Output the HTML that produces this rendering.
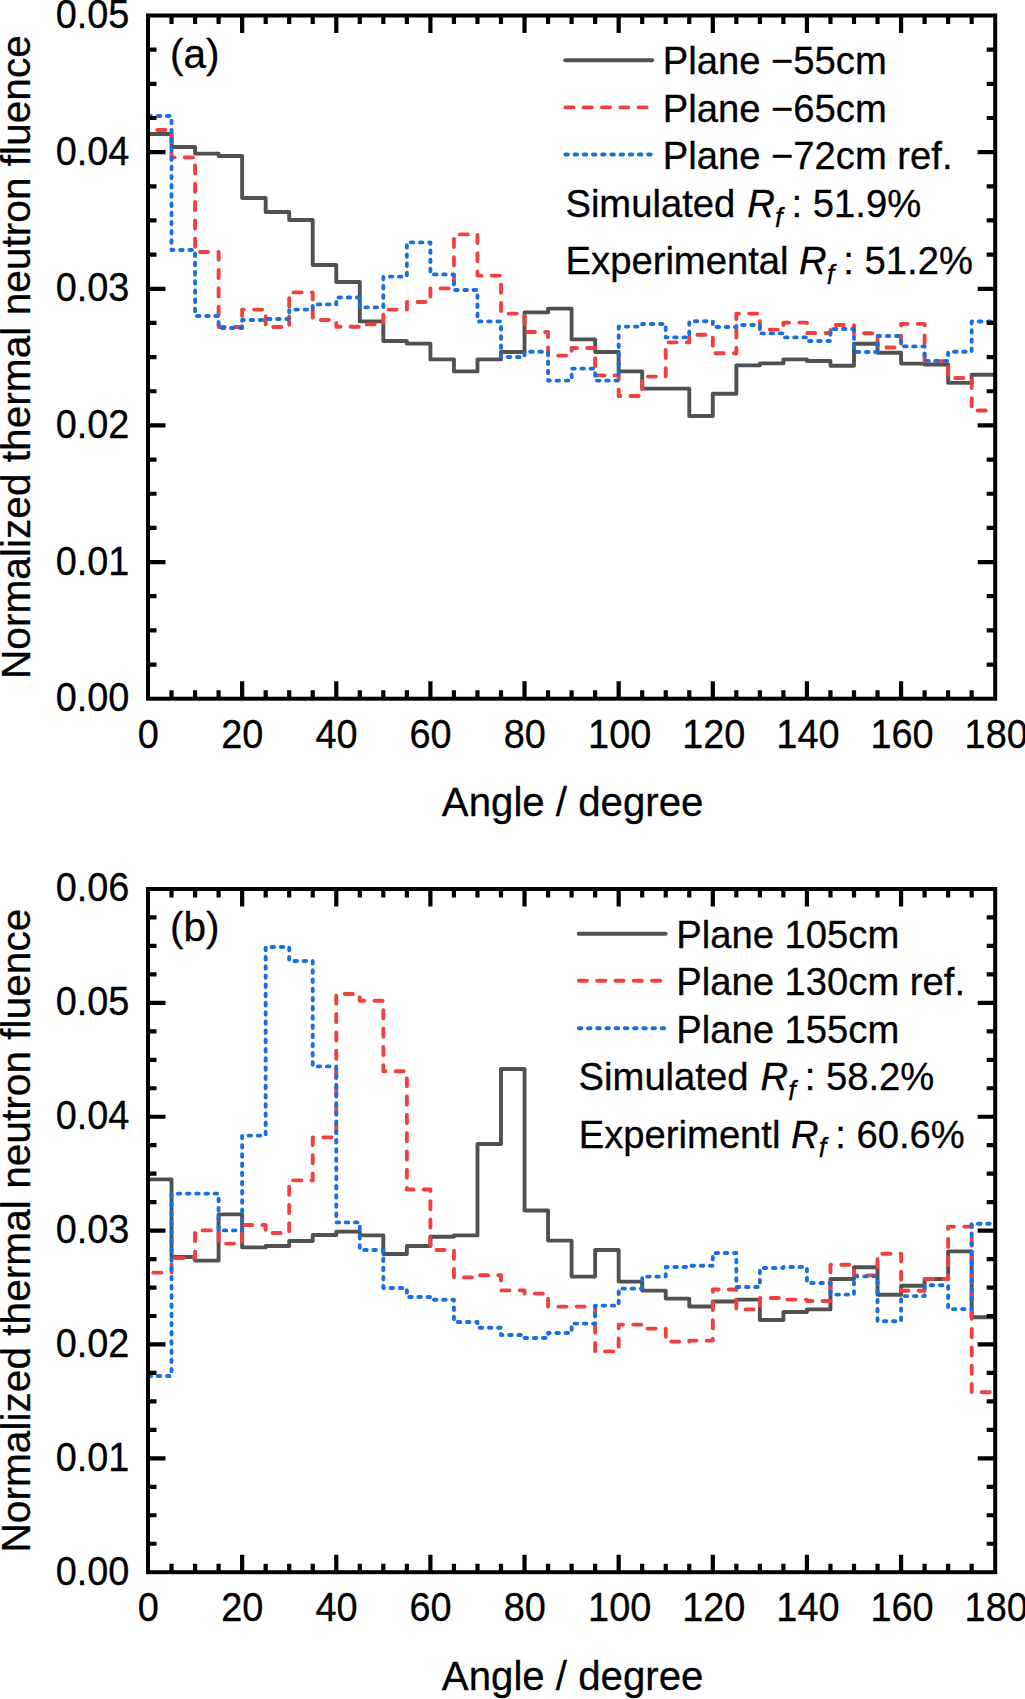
<!DOCTYPE html>
<html lang="en"><head><meta charset="utf-8"><title>Normalized thermal neutron fluence</title>
<style>
html,body{margin:0;padding:0;background:#fff}
body{width:1025px;height:1699px;overflow:hidden}
svg{display:block}
</style></head>
<body>
<svg width="1025" height="1699" viewBox="0 0 1025 1699">
<style>text{stroke:#000;stroke-width:0.3px;stroke-linejoin:round}</style>
<rect width="1025" height="1699" fill="#fff"/>
<clipPath id="clipa"><rect x="148.00" y="15.50" width="847.20" height="683.20"/></clipPath>
<g clip-path="url(#clipa)" fill="none" stroke-linejoin="round">
<path d="M148.00 134.00 L171.53 134.00 L171.53 147.00 L195.07 147.00 L195.07 153.60 L218.60 153.60 L218.60 156.00 L242.13 156.00 L242.13 198.00 L265.67 198.00 L265.67 212.00 L289.20 212.00 L289.20 220.00 L312.73 220.00 L312.73 265.00 L336.27 265.00 L336.27 282.00 L359.80 282.00 L359.80 321.40 L383.33 321.40 L383.33 341.00 L406.87 341.00 L406.87 343.60 L430.40 343.60 L430.40 359.40 L453.93 359.40 L453.93 371.40 L477.47 371.40 L477.47 359.40 L501.00 359.40 L501.00 352.00 L524.53 352.00 L524.53 312.40 L548.07 312.40 L548.07 308.60 L571.60 308.60 L571.60 339.40 L595.13 339.40 L595.13 352.00 L618.67 352.00 L618.67 371.40 L642.20 371.40 L642.20 388.60 L665.73 388.60 L665.73 388.60 L689.27 388.60 L689.27 416.00 L712.80 416.00 L712.80 393.70 L736.33 393.70 L736.33 365.40 L759.87 365.40 L759.87 363.40 L783.40 363.40 L783.40 359.40 L806.93 359.40 L806.93 361.00 L830.47 361.00 L830.47 365.70 L854.00 365.70 L854.00 343.80 L877.53 343.80 L877.53 352.80 L901.07 352.80 L901.07 363.60 L924.60 363.60 L924.60 364.50 L948.13 364.50 L948.13 382.90 L971.67 382.90 L971.67 374.80 L995.20 374.80" stroke="#515151" stroke-width="3.9"/>
<path d="M148.00 130.00 L171.53 130.00 L171.53 157.40 L195.07 157.40 L195.07 252.00 L218.60 252.00 L218.60 327.00 L242.13 327.00 L242.13 309.60 L265.67 309.60 L265.67 327.00 L289.20 327.00 L289.20 292.40 L312.73 292.40 L312.73 320.00 L336.27 320.00 L336.27 326.70 L359.80 326.70 L359.80 324.40 L383.33 324.40 L383.33 309.60 L406.87 309.60 L406.87 302.00 L430.40 302.00 L430.40 288.40 L453.93 288.40 L453.93 234.40 L477.47 234.40 L477.47 275.60 L501.00 275.60 L501.00 313.60 L524.53 313.60 L524.53 332.00 L548.07 332.00 L548.07 355.60 L571.60 355.60 L571.60 348.00 L595.13 348.00 L595.13 375.40 L618.67 375.40 L618.67 396.00 L642.20 396.00 L642.20 376.60 L665.73 376.60 L665.73 342.40 L689.27 342.40 L689.27 334.70 L712.80 334.70 L712.80 353.20 L736.33 353.20 L736.33 313.60 L759.87 313.60 L759.87 329.60 L783.40 329.60 L783.40 322.60 L806.93 322.60 L806.93 333.00 L830.47 333.00 L830.47 325.00 L854.00 325.00 L854.00 333.30 L877.53 333.30 L877.53 347.50 L901.07 347.50 L901.07 323.90 L924.60 323.90 L924.60 361.20 L948.13 361.20 L948.13 378.00 L971.67 378.00 L971.67 410.50 L995.20 410.50" stroke="#F14040" stroke-width="3.9" stroke-dasharray="8.1 10.2" stroke-dashoffset="9.0" stroke-linecap="round"/>
<path d="M148.00 116.00 L171.53 116.00 L171.53 250.00 L195.07 250.00 L195.07 316.00 L218.60 316.00 L218.60 328.00 L242.13 328.00 L242.13 320.00 L265.67 320.00 L265.67 319.00 L289.20 319.00 L289.20 309.60 L312.73 309.60 L312.73 304.40 L336.27 304.40 L336.27 297.50 L359.80 297.50 L359.80 307.40 L383.33 307.40 L383.33 276.60 L406.87 276.60 L406.87 242.40 L430.40 242.40 L430.40 274.40 L453.93 274.40 L453.93 290.00 L477.47 290.00 L477.47 321.40 L501.00 321.40 L501.00 357.00 L524.53 357.00 L524.53 351.80 L548.07 351.80 L548.07 380.60 L571.60 380.60 L571.60 368.60 L595.13 368.60 L595.13 380.60 L618.67 380.60 L618.67 326.60 L642.20 326.60 L642.20 324.00 L665.73 324.00 L665.73 337.40 L689.27 337.40 L689.27 321.20 L712.80 321.20 L712.80 327.00 L736.33 327.00 L736.33 325.00 L759.87 325.00 L759.87 333.40 L783.40 333.40 L783.40 337.40 L806.93 337.40 L806.93 341.00 L830.47 341.00 L830.47 329.00 L854.00 329.00 L854.00 352.00 L877.53 352.00 L877.53 336.00 L901.07 336.00 L901.07 346.40 L924.60 346.40 L924.60 360.90 L948.13 360.90 L948.13 351.80 L971.67 351.80 L971.67 321.50 L995.20 321.50" stroke="#1A6FDF" stroke-width="3.9" stroke-dasharray="2.5 6.7" stroke-dashoffset="-0.6" stroke-linecap="round"/>
</g>
<path d="M171.53 15.50v8.50M171.53 698.70v-8.50M195.07 15.50v8.50M195.07 698.70v-8.50M218.60 15.50v8.50M218.60 698.70v-8.50M242.13 15.50v17.50M242.13 698.70v-17.50M265.67 15.50v8.50M265.67 698.70v-8.50M289.20 15.50v8.50M289.20 698.70v-8.50M312.73 15.50v8.50M312.73 698.70v-8.50M336.27 15.50v17.50M336.27 698.70v-17.50M359.80 15.50v8.50M359.80 698.70v-8.50M383.33 15.50v8.50M383.33 698.70v-8.50M406.87 15.50v8.50M406.87 698.70v-8.50M430.40 15.50v17.50M430.40 698.70v-17.50M453.93 15.50v8.50M453.93 698.70v-8.50M477.47 15.50v8.50M477.47 698.70v-8.50M501.00 15.50v8.50M501.00 698.70v-8.50M524.53 15.50v17.50M524.53 698.70v-17.50M548.07 15.50v8.50M548.07 698.70v-8.50M571.60 15.50v8.50M571.60 698.70v-8.50M595.13 15.50v8.50M595.13 698.70v-8.50M618.67 15.50v17.50M618.67 698.70v-17.50M642.20 15.50v8.50M642.20 698.70v-8.50M665.73 15.50v8.50M665.73 698.70v-8.50M689.27 15.50v8.50M689.27 698.70v-8.50M712.80 15.50v17.50M712.80 698.70v-17.50M736.33 15.50v8.50M736.33 698.70v-8.50M759.87 15.50v8.50M759.87 698.70v-8.50M783.40 15.50v8.50M783.40 698.70v-8.50M806.93 15.50v17.50M806.93 698.70v-17.50M830.47 15.50v8.50M830.47 698.70v-8.50M854.00 15.50v8.50M854.00 698.70v-8.50M877.53 15.50v8.50M877.53 698.70v-8.50M901.07 15.50v17.50M901.07 698.70v-17.50M924.60 15.50v8.50M924.60 698.70v-8.50M948.13 15.50v8.50M948.13 698.70v-8.50M971.67 15.50v8.50M971.67 698.70v-8.50M148.00 664.54h8.50M995.20 664.54h-8.50M148.00 630.38h8.50M995.20 630.38h-8.50M148.00 596.22h8.50M995.20 596.22h-8.50M148.00 562.06h17.50M995.20 562.06h-17.50M148.00 527.90h8.50M995.20 527.90h-8.50M148.00 493.74h8.50M995.20 493.74h-8.50M148.00 459.58h8.50M995.20 459.58h-8.50M148.00 425.42h17.50M995.20 425.42h-17.50M148.00 391.26h8.50M995.20 391.26h-8.50M148.00 357.10h8.50M995.20 357.10h-8.50M148.00 322.94h8.50M995.20 322.94h-8.50M148.00 288.78h17.50M995.20 288.78h-17.50M148.00 254.62h8.50M995.20 254.62h-8.50M148.00 220.46h8.50M995.20 220.46h-8.50M148.00 186.30h8.50M995.20 186.30h-8.50M148.00 152.14h17.50M995.20 152.14h-17.50M148.00 117.98h8.50M995.20 117.98h-8.50M148.00 83.82h8.50M995.20 83.82h-8.50M148.00 49.66h8.50M995.20 49.66h-8.50" stroke="#000" stroke-width="4.2" fill="none"/>
<rect x="148.00" y="15.50" width="847.20" height="683.20" fill="none" stroke="#000" stroke-width="4"/>
<g font-family="Liberation Sans, Arial, Helvetica, sans-serif" font-size="37.9" fill="#000">
<text transform="translate(129.4 711.15) scale(1 1.065)" text-anchor="end">0.00</text>
<text transform="translate(129.4 574.51) scale(1 1.065)" text-anchor="end">0.01</text>
<text transform="translate(129.4 437.87) scale(1 1.065)" text-anchor="end">0.02</text>
<text transform="translate(129.4 301.23) scale(1 1.065)" text-anchor="end">0.03</text>
<text transform="translate(129.4 164.59) scale(1 1.065)" text-anchor="end">0.04</text>
<text transform="translate(129.4 27.95) scale(1 1.065)" text-anchor="end">0.05</text>
<text transform="translate(148.20 747.50) scale(1 1.065)" text-anchor="middle">0</text>
<text transform="translate(242.33 747.50) scale(1 1.065)" text-anchor="middle">20</text>
<text transform="translate(336.47 747.50) scale(1 1.065)" text-anchor="middle">40</text>
<text transform="translate(430.60 747.50) scale(1 1.065)" text-anchor="middle">60</text>
<text transform="translate(524.73 747.50) scale(1 1.065)" text-anchor="middle">80</text>
<text transform="translate(619.67 747.50) scale(1 1.065)" text-anchor="middle">100</text>
<text transform="translate(713.80 747.50) scale(1 1.065)" text-anchor="middle">120</text>
<text transform="translate(807.93 747.50) scale(1 1.065)" text-anchor="middle">140</text>
<text transform="translate(902.07 747.50) scale(1 1.065)" text-anchor="middle">160</text>
<text transform="translate(996.20 747.50) scale(1 1.065)" text-anchor="middle">180</text>
</g>
<text font-family="Liberation Sans, Arial, Helvetica, sans-serif" font-size="40.2" transform="translate(572.60 816.20) scale(1 1.005)" text-anchor="middle">Angle / degree</text>
<text font-family="Liberation Sans, Arial, Helvetica, sans-serif" font-size="40.65" transform="translate(29.9 357.10) rotate(-90) scale(1 1.005)" text-anchor="middle">Normalized thermal neutron fluence</text>
<text font-family="Liberation Sans, Arial, Helvetica, sans-serif" font-size="40.5" transform="translate(170.00 67.50) scale(1 1.0)">(a)</text>
<g fill="none">
<path d="M565.20 60.20H652.20" stroke="#515151" stroke-width="3.9" stroke-linecap="round"/>
<path d="M565.35 107.40H650.40" stroke="#F14040" stroke-width="3.9" stroke-dasharray="8.1 10.2" stroke-linecap="round"/>
<path d="M565.35 154.50H651.20" stroke="#1A6FDF" stroke-width="3.9" stroke-dasharray="2.5 6.7" stroke-linecap="round"/>
</g>
<g font-family="Liberation Sans, Arial, Helvetica, sans-serif" font-size="38.2" fill="#000">
<text transform="translate(662.70 74.00) scale(1 1.02)">Plane −55cm</text>
<text transform="translate(662.70 121.80) scale(1 1.02)">Plane −65cm</text>
<text transform="translate(662.70 168.80) scale(1 1.02)">Plane −72cm ref.</text>
<text transform="translate(565.40 216.80) scale(1 1.02)">Simulated <tspan font-style="italic" dx="1.5">R</tspan><tspan font-style="italic" font-size="27" dy="9.6">f</tspan><tspan dy="-9.6" dx="-1.5"> : 51.9%</tspan></text>
<text transform="translate(565.60 274.40) scale(1 1.02)">Experimental <tspan font-style="italic" dx="0">R</tspan><tspan font-style="italic" font-size="27" dy="9.6">f</tspan><tspan dy="-9.6" dx="-1.5"> : 51.2%</tspan></text>
</g>
<clipPath id="clipb"><rect x="148.00" y="889.00" width="847.20" height="683.20"/></clipPath>
<g clip-path="url(#clipb)" fill="none" stroke-linejoin="round">
<path d="M148.00 1179.40 L171.53 1179.40 L171.53 1257.00 L195.07 1257.00 L195.07 1260.60 L218.60 1260.60 L218.60 1214.40 L242.13 1214.40 L242.13 1247.40 L265.67 1247.40 L265.67 1246.00 L289.20 1246.00 L289.20 1241.00 L312.73 1241.00 L312.73 1235.00 L336.27 1235.00 L336.27 1231.60 L359.80 1231.60 L359.80 1235.40 L383.33 1235.40 L383.33 1254.00 L406.87 1254.00 L406.87 1246.00 L430.40 1246.00 L430.40 1236.70 L453.93 1236.70 L453.93 1235.40 L477.47 1235.40 L477.47 1144.00 L501.00 1144.00 L501.00 1069.00 L524.53 1069.00 L524.53 1210.50 L548.07 1210.50 L548.07 1240.60 L571.60 1240.60 L571.60 1276.60 L595.13 1276.60 L595.13 1250.00 L618.67 1250.00 L618.67 1281.60 L642.20 1281.60 L642.20 1290.60 L665.73 1290.60 L665.73 1298.60 L689.27 1298.60 L689.27 1306.50 L712.80 1306.50 L712.80 1301.50 L736.33 1301.50 L736.33 1299.60 L759.87 1299.60 L759.87 1320.00 L783.40 1320.00 L783.40 1312.00 L806.93 1312.00 L806.93 1309.40 L830.47 1309.40 L830.47 1279.00 L854.00 1279.00 L854.00 1267.20 L877.53 1267.20 L877.53 1294.70 L901.07 1294.70 L901.07 1285.70 L924.60 1285.70 L924.60 1279.00 L948.13 1279.00 L948.13 1251.40 L971.67 1251.40 L971.67 1317.30 L995.20 1317.30" stroke="#515151" stroke-width="3.9"/>
<path d="M148.00 1272.60 L171.53 1272.60 L171.53 1258.00 L195.07 1258.00 L195.07 1230.40 L218.60 1230.40 L218.60 1243.60 L242.13 1243.60 L242.13 1225.00 L265.67 1225.00 L265.67 1233.00 L289.20 1233.00 L289.20 1180.40 L312.73 1180.40 L312.73 1137.40 L336.27 1137.40 L336.27 994.00 L359.80 994.00 L359.80 1000.80 L383.33 1000.80 L383.33 1071.20 L406.87 1071.20 L406.87 1189.50 L430.40 1189.50 L430.40 1250.00 L453.93 1250.00 L453.93 1277.40 L477.47 1277.40 L477.47 1275.20 L501.00 1275.20 L501.00 1290.40 L524.53 1290.40 L524.53 1293.60 L548.07 1293.60 L548.07 1306.60 L571.60 1306.60 L571.60 1306.60 L595.13 1306.60 L595.13 1351.40 L618.67 1351.40 L618.67 1324.60 L642.20 1324.60 L642.20 1328.60 L665.73 1328.60 L665.73 1341.60 L689.27 1341.60 L689.27 1340.60 L712.80 1340.60 L712.80 1289.50 L736.33 1289.50 L736.33 1309.40 L759.87 1309.40 L759.87 1298.00 L783.40 1298.00 L783.40 1299.60 L806.93 1299.60 L806.93 1301.00 L830.47 1301.00 L830.47 1264.80 L854.00 1264.80 L854.00 1275.40 L877.53 1275.40 L877.53 1253.80 L901.07 1253.80 L901.07 1290.70 L924.60 1290.70 L924.60 1279.00 L948.13 1279.00 L948.13 1226.60 L971.67 1226.60 L971.67 1392.20 L995.20 1392.20" stroke="#F14040" stroke-width="3.9" stroke-dasharray="8.1 10.2" stroke-dashoffset="13.0" stroke-linecap="round"/>
<path d="M148.00 1376.00 L171.53 1376.00 L171.53 1193.60 L195.07 1193.60 L195.07 1193.60 L218.60 1193.60 L218.60 1230.40 L242.13 1230.40 L242.13 1135.60 L265.67 1135.60 L265.67 947.00 L289.20 947.00 L289.20 961.00 L312.73 961.00 L312.73 1066.40 L336.27 1066.40 L336.27 1222.40 L359.80 1222.40 L359.80 1250.00 L383.33 1250.00 L383.33 1288.00 L406.87 1288.00 L406.87 1297.00 L430.40 1297.00 L430.40 1299.80 L453.93 1299.80 L453.93 1322.00 L477.47 1322.00 L477.47 1327.70 L501.00 1327.70 L501.00 1335.00 L524.53 1335.00 L524.53 1338.00 L548.07 1338.00 L548.07 1333.00 L571.60 1333.00 L571.60 1323.60 L595.13 1323.60 L595.13 1305.60 L618.67 1305.60 L618.67 1288.60 L642.20 1288.60 L642.20 1276.60 L665.73 1276.60 L665.73 1267.00 L689.27 1267.00 L689.27 1265.80 L712.80 1265.80 L712.80 1253.00 L736.33 1253.00 L736.33 1287.00 L759.87 1287.00 L759.87 1268.00 L783.40 1268.00 L783.40 1267.00 L806.93 1267.00 L806.93 1283.00 L830.47 1283.00 L830.47 1294.60 L854.00 1294.60 L854.00 1276.40 L877.53 1276.40 L877.53 1321.20 L901.07 1321.20 L901.07 1296.10 L924.60 1296.10 L924.60 1285.30 L948.13 1285.30 L948.13 1309.10 L971.67 1309.10 L971.67 1223.80 L995.20 1223.80" stroke="#1A6FDF" stroke-width="3.9" stroke-dasharray="2.5 6.7" stroke-dashoffset="-0.6" stroke-linecap="round"/>
</g>
<path d="M171.53 889.00v8.50M171.53 1572.20v-8.50M195.07 889.00v8.50M195.07 1572.20v-8.50M218.60 889.00v8.50M218.60 1572.20v-8.50M242.13 889.00v17.50M242.13 1572.20v-17.50M265.67 889.00v8.50M265.67 1572.20v-8.50M289.20 889.00v8.50M289.20 1572.20v-8.50M312.73 889.00v8.50M312.73 1572.20v-8.50M336.27 889.00v17.50M336.27 1572.20v-17.50M359.80 889.00v8.50M359.80 1572.20v-8.50M383.33 889.00v8.50M383.33 1572.20v-8.50M406.87 889.00v8.50M406.87 1572.20v-8.50M430.40 889.00v17.50M430.40 1572.20v-17.50M453.93 889.00v8.50M453.93 1572.20v-8.50M477.47 889.00v8.50M477.47 1572.20v-8.50M501.00 889.00v8.50M501.00 1572.20v-8.50M524.53 889.00v17.50M524.53 1572.20v-17.50M548.07 889.00v8.50M548.07 1572.20v-8.50M571.60 889.00v8.50M571.60 1572.20v-8.50M595.13 889.00v8.50M595.13 1572.20v-8.50M618.67 889.00v17.50M618.67 1572.20v-17.50M642.20 889.00v8.50M642.20 1572.20v-8.50M665.73 889.00v8.50M665.73 1572.20v-8.50M689.27 889.00v8.50M689.27 1572.20v-8.50M712.80 889.00v17.50M712.80 1572.20v-17.50M736.33 889.00v8.50M736.33 1572.20v-8.50M759.87 889.00v8.50M759.87 1572.20v-8.50M783.40 889.00v8.50M783.40 1572.20v-8.50M806.93 889.00v17.50M806.93 1572.20v-17.50M830.47 889.00v8.50M830.47 1572.20v-8.50M854.00 889.00v8.50M854.00 1572.20v-8.50M877.53 889.00v8.50M877.53 1572.20v-8.50M901.07 889.00v17.50M901.07 1572.20v-17.50M924.60 889.00v8.50M924.60 1572.20v-8.50M948.13 889.00v8.50M948.13 1572.20v-8.50M971.67 889.00v8.50M971.67 1572.20v-8.50M148.00 1543.73h8.50M995.20 1543.73h-8.50M148.00 1515.27h8.50M995.20 1515.27h-8.50M148.00 1486.80h8.50M995.20 1486.80h-8.50M148.00 1458.33h17.50M995.20 1458.33h-17.50M148.00 1429.87h8.50M995.20 1429.87h-8.50M148.00 1401.40h8.50M995.20 1401.40h-8.50M148.00 1372.93h8.50M995.20 1372.93h-8.50M148.00 1344.47h17.50M995.20 1344.47h-17.50M148.00 1316.00h8.50M995.20 1316.00h-8.50M148.00 1287.53h8.50M995.20 1287.53h-8.50M148.00 1259.07h8.50M995.20 1259.07h-8.50M148.00 1230.60h17.50M995.20 1230.60h-17.50M148.00 1202.13h8.50M995.20 1202.13h-8.50M148.00 1173.67h8.50M995.20 1173.67h-8.50M148.00 1145.20h8.50M995.20 1145.20h-8.50M148.00 1116.73h17.50M995.20 1116.73h-17.50M148.00 1088.27h8.50M995.20 1088.27h-8.50M148.00 1059.80h8.50M995.20 1059.80h-8.50M148.00 1031.33h8.50M995.20 1031.33h-8.50M148.00 1002.87h17.50M995.20 1002.87h-17.50M148.00 974.40h8.50M995.20 974.40h-8.50M148.00 945.93h8.50M995.20 945.93h-8.50M148.00 917.47h8.50M995.20 917.47h-8.50" stroke="#000" stroke-width="4.2" fill="none"/>
<rect x="148.00" y="889.00" width="847.20" height="683.20" fill="none" stroke="#000" stroke-width="4"/>
<g font-family="Liberation Sans, Arial, Helvetica, sans-serif" font-size="37.9" fill="#000">
<text transform="translate(129.4 1584.65) scale(1 1.065)" text-anchor="end">0.00</text>
<text transform="translate(129.4 1470.78) scale(1 1.065)" text-anchor="end">0.01</text>
<text transform="translate(129.4 1356.92) scale(1 1.065)" text-anchor="end">0.02</text>
<text transform="translate(129.4 1243.05) scale(1 1.065)" text-anchor="end">0.03</text>
<text transform="translate(129.4 1129.18) scale(1 1.065)" text-anchor="end">0.04</text>
<text transform="translate(129.4 1015.32) scale(1 1.065)" text-anchor="end">0.05</text>
<text transform="translate(129.4 901.45) scale(1 1.065)" text-anchor="end">0.06</text>
<text transform="translate(148.20 1621.00) scale(1 1.065)" text-anchor="middle">0</text>
<text transform="translate(242.33 1621.00) scale(1 1.065)" text-anchor="middle">20</text>
<text transform="translate(336.47 1621.00) scale(1 1.065)" text-anchor="middle">40</text>
<text transform="translate(430.60 1621.00) scale(1 1.065)" text-anchor="middle">60</text>
<text transform="translate(524.73 1621.00) scale(1 1.065)" text-anchor="middle">80</text>
<text transform="translate(619.67 1621.00) scale(1 1.065)" text-anchor="middle">100</text>
<text transform="translate(713.80 1621.00) scale(1 1.065)" text-anchor="middle">120</text>
<text transform="translate(807.93 1621.00) scale(1 1.065)" text-anchor="middle">140</text>
<text transform="translate(902.07 1621.00) scale(1 1.065)" text-anchor="middle">160</text>
<text transform="translate(996.20 1621.00) scale(1 1.065)" text-anchor="middle">180</text>
</g>
<text font-family="Liberation Sans, Arial, Helvetica, sans-serif" font-size="40.2" transform="translate(572.60 1689.70) scale(1 1.005)" text-anchor="middle">Angle / degree</text>
<text font-family="Liberation Sans, Arial, Helvetica, sans-serif" font-size="40.65" transform="translate(29.9 1230.60) rotate(-90) scale(1 1.005)" text-anchor="middle">Normalized thermal neutron fluence</text>
<text font-family="Liberation Sans, Arial, Helvetica, sans-serif" font-size="40.5" transform="translate(170.00 941.40) scale(1 1.0)">(b)</text>
<g fill="none">
<path d="M578.70 933.80H665.70" stroke="#515151" stroke-width="3.9" stroke-linecap="round"/>
<path d="M578.85 980.80H664.80" stroke="#F14040" stroke-width="3.9" stroke-dasharray="8.1 10.2" stroke-linecap="round"/>
<path d="M578.85 1028.30H665.60" stroke="#1A6FDF" stroke-width="3.9" stroke-dasharray="2.5 6.7" stroke-linecap="round"/>
</g>
<g font-family="Liberation Sans, Arial, Helvetica, sans-serif" font-size="38.2" fill="#000">
<text transform="translate(676.30 948.40) scale(1 1.02)">Plane 105cm</text>
<text transform="translate(676.30 995.20) scale(1 1.02)">Plane 130cm ref.</text>
<text transform="translate(676.30 1042.70) scale(1 1.02)">Plane 155cm</text>
<text transform="translate(578.60 1090.20) scale(1 1.02)">Simulated <tspan font-style="italic" dx="1.5">R</tspan><tspan font-style="italic" font-size="27" dy="9.6">f</tspan><tspan dy="-9.6" dx="-1.5"> : 58.2%</tspan></text>
<text transform="translate(578.80 1147.50) scale(1 1.02)">Experimentl <tspan font-style="italic" dx="0">R</tspan><tspan font-style="italic" font-size="27" dy="9.6">f</tspan><tspan dy="-9.6" dx="-1.5"> : 60.6%</tspan></text>
</g>
</svg>
</body></html>
